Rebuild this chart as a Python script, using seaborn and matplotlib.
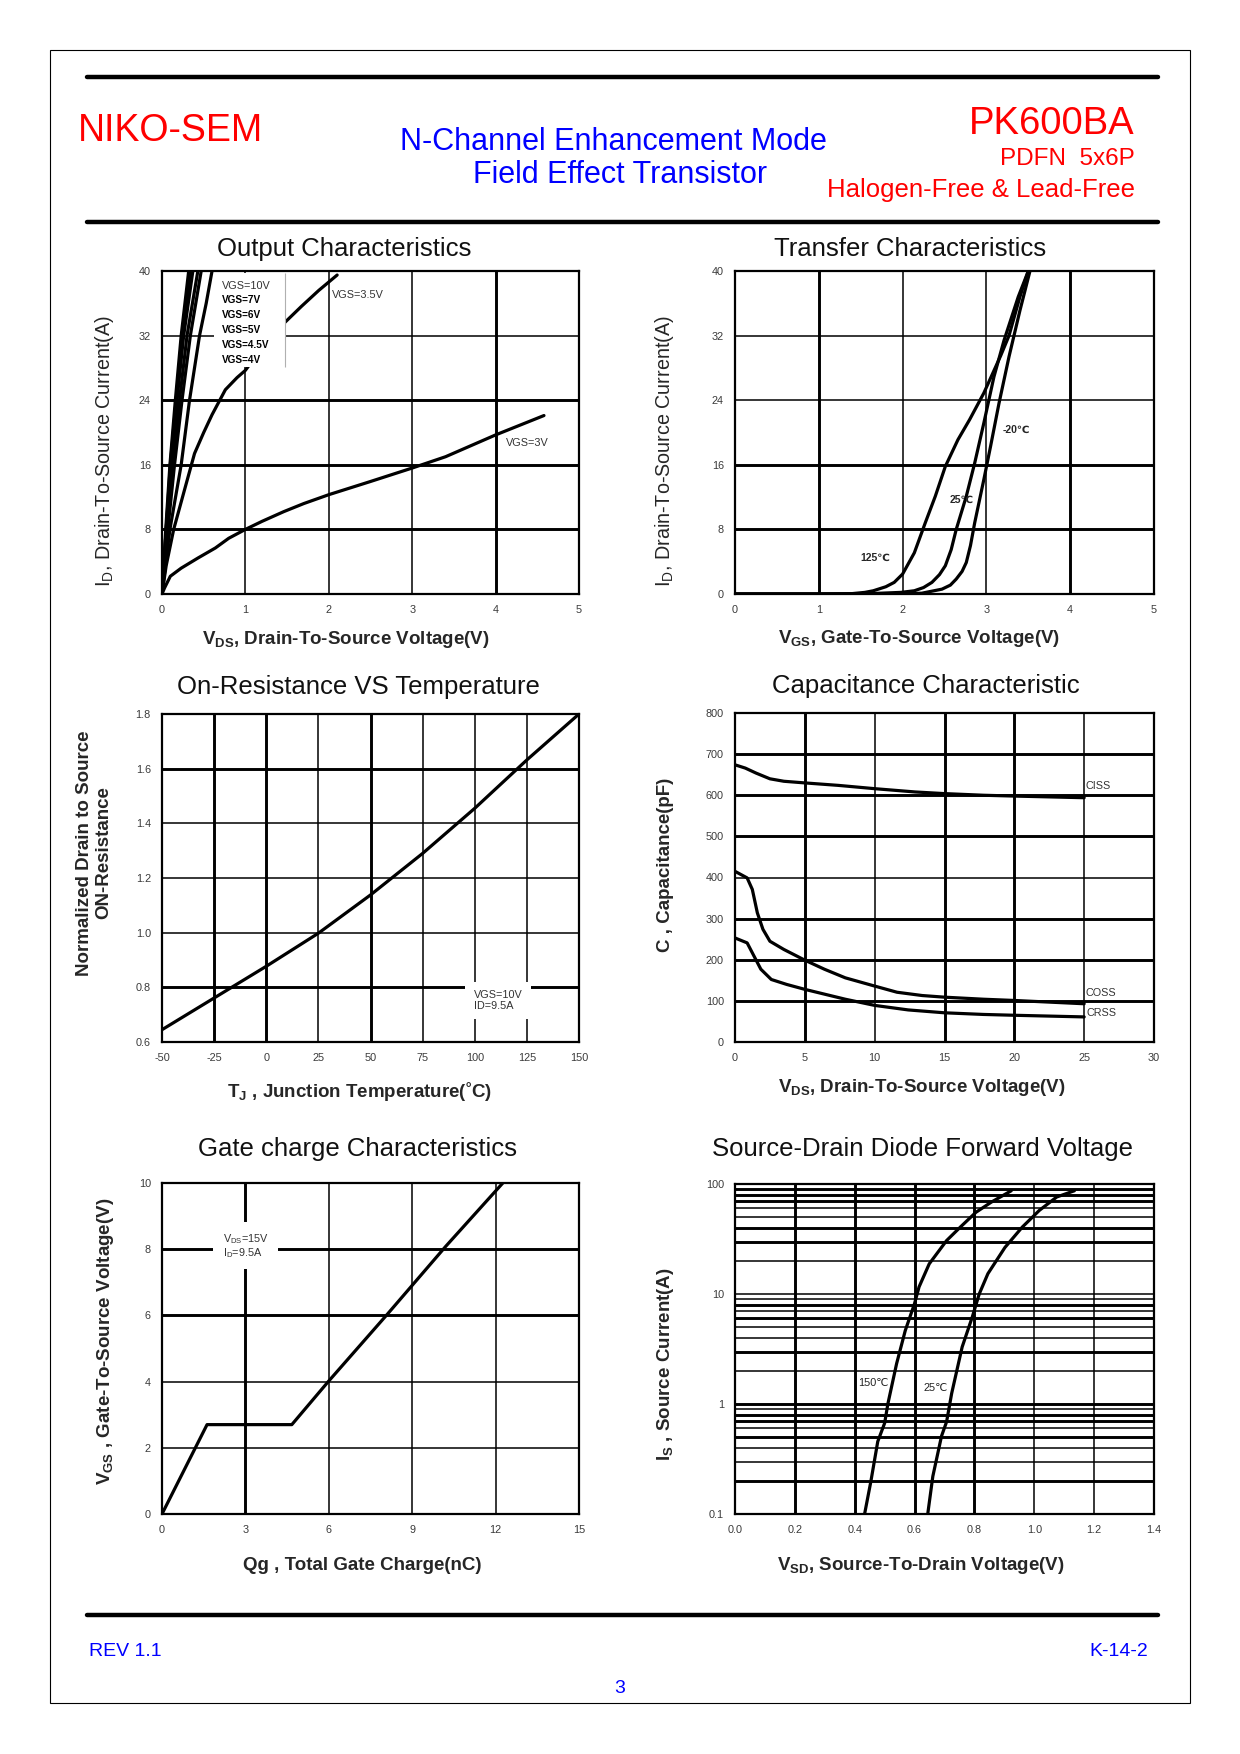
import numpy as np
import pandas as pd
import matplotlib
matplotlib.use("Agg")
import matplotlib.pyplot as plt
import seaborn as sns
from matplotlib.lines import Line2D
from matplotlib.patches import Rectangle

sns.set_theme(style="white")
plt.rcParams['font.family'] = ['Liberation Sans', 'DejaVu Sans']
plt.rcParams['mathtext.default'] = 'regular'

#----------------------------------
# data
#----------------------------------
# Output characteristics (VDS in V, ID in A)
out_vds_3v = [0, 0.03, 0.10, 0.23, 0.43, 0.64, 0.8, 1.0, 1.2, 1.46, 1.7, 2.0, 2.49, 3.0, 3.4, 4.0, 4.58]
out_id_3v = [0, 0.74, 2.2, 3.2, 4.45, 5.7, 6.9, 8.0, 9.0, 10.2, 11.2, 12.3, 13.9, 15.6, 17.0, 19.7, 22.1]
out_vds_35v = [0, 0.05, 0.14, 0.27, 0.39, 0.5, 0.6, 0.76, 0.9, 1.0, 1.2, 1.46, 1.67, 1.88, 2.1]
out_id_35v = [0, 3.5, 8.0, 12.9, 17.4, 20.0, 22.2, 25.3, 26.8, 27.7, 30.5, 33.5, 35.6, 37.6, 39.5]
out_vds_4v = [0, 0.095, 0.23, 0.33, 0.45, 0.53, 0.6]
out_id_4v = [0, 8, 16, 24, 32, 36, 40]
out_id_hi = [0, 8, 16, 24, 32, 40]
out_vds_45v = [0, 0.07, 0.15, 0.24, 0.34, 0.47]
out_vds_5v = [0, 0.06, 0.13, 0.21, 0.30, 0.43]
out_vds_6v = [0, 0.05, 0.11, 0.18, 0.26, 0.37]
out_vds_7v = [0, 0.05, 0.10, 0.17, 0.24, 0.34]
out_vds_10v = [0, 0.045, 0.095, 0.16, 0.23, 0.32]
out_legend = ["VGS=10V", "VGS=7V", "VGS=6V", "VGS=5V", "VGS=4.5V", "VGS=4V"]

# Transfer characteristics (VGS in V, ID in A)
tr_vgs_125 = [0, 1.0, 1.4, 1.55, 1.65, 1.8, 1.9, 2.0, 2.14, 2.27, 2.39, 2.51, 2.66, 2.8, 2.97, 3.17, 3.27, 3.4, 3.5]
tr_id_125 = [0, 0, 0.05, 0.2, 0.4, 0.9, 1.44, 2.47, 5.1, 8.8, 12.1, 15.8, 19.1, 21.6, 24.9, 29.5, 32.0, 36.8, 40]
tr_vgs_25 = [0, 1.5, 1.98, 2.14, 2.25, 2.35, 2.44, 2.51, 2.58, 2.64, 2.76, 2.86, 2.97, 3.09, 3.21, 3.38, 3.5]
tr_id_25 = [0, 0, 0.2, 0.4, 0.8, 1.44, 2.4, 3.5, 5.5, 8.0, 12.1, 16.2, 21.2, 26.9, 31.4, 36.8, 40]
tr_vgs_m20 = [0, 2.0, 2.23, 2.47, 2.57, 2.64, 2.71, 2.76, 2.81, 2.86, 2.97, 3.05, 3.15, 3.27, 3.4, 3.52]
tr_id_m20 = [0, 0, 0.1, 0.6, 1.1, 1.85, 2.8, 3.9, 6.0, 8.8, 14.2, 18.3, 23.6, 29.4, 35.1, 40]

# On-resistance vs temperature
tj = [-50, -25, 0, 25, 50, 75, 100, 125, 150]
rds_norm = [0.645, 0.761, 0.877, 0.998, 1.138, 1.29, 1.455, 1.632, 1.8]

# Capacitance (VDS in V, C in pF)
cap_v = [0, 0.74, 1.5, 2.5, 3.5, 5, 7.4, 10, 12.9, 15, 17.8, 20, 25]
ciss = [674, 666, 654, 640, 634, 630, 624, 616, 608, 604, 600, 598, 594]
coss_v = [0, 0.87, 1.24, 1.6, 2.0, 2.5, 3.5, 5, 6.4, 7.9, 10, 11.6, 13.4, 15, 17.8, 20, 25]
coss = [415, 399, 371, 314, 274, 245, 225, 199, 177, 156, 136, 121, 113, 109, 104, 101, 93]
crss_v = [0, 0.87, 1.36, 1.85, 2.6, 3.7, 5, 7.9, 10, 12.4, 15, 17.8, 20, 25]
crss = [253, 241, 209, 177, 152, 140, 128, 104, 89, 78, 71, 67, 65, 61]

# Gate charge
qg = [0, 1.62, 4.67, 5.98, 8.09, 10.2, 12.26]
vgs_qg = [0, 2.7, 2.7, 4.0, 6.02, 8.08, 10]

# Source-drain diode forward voltage
vsd_150 = [0.433, 0.454, 0.477, 0.5, 0.511, 0.54, 0.569, 0.6, 0.615, 0.649, 0.707, 0.753, 0.805, 0.856, 0.923]
is_150 = [0.1, 0.198, 0.456, 0.67, 1.01, 2.33, 4.66, 8.2, 11.6, 18.8, 30.6, 40.6, 55.3, 68.3, 86.8]
vsd_25 = [0.644, 0.661, 0.69, 0.707, 0.724, 0.759, 0.793, 0.816, 0.845, 0.902, 0.96, 1.017, 1.075, 1.134]
is_25 = [0.1, 0.22, 0.51, 0.69, 1.25, 3.3, 6.2, 10.0, 15.3, 26.5, 40.6, 57.6, 76.2, 86.8]

#----------------------------------
# page layout helpers
#----------------------------------
W, H = 1240, 1754
fig = plt.figure(figsize=(W / 100, H / 100), dpi=100)
fig.patch.set_facecolor("white")

def fx(px):
    return px / W

def fy(py):
    return 1 - py / H

def add_ax(l, t, r, b):
    return fig.add_axes([fx(l), fy(b), (r - l) / W, (b - t) / H])

THICK, THIN, CURVE = 2.1, 1.1, 2.3
TICK_C = "#3a3a3a"

def frame(ax, xlim, ylim, xt, yt, xlab, ylab, vthick=(), hthick=(), log=False):
    if log:
        ax.set_yscale("log")
    ax.set_xlim(xlim)
    ax.set_ylim(ylim)
    ax.set_xticks(xt)
    ax.set_xticklabels(xlab)
    ax.set_yticks(yt)
    ax.set_yticklabels(ylab)
    ax.minorticks_off()
    ax.tick_params(length=0, pad=8, labelsize=7.8, labelcolor=TICK_C)
    for s in ax.spines.values():
        s.set_color("black")
        s.set_linewidth(1.6)
    ax.set_xlabel("")
    ax.set_ylabel("")
    ax.grid(False)
    for v in xt[1:-1]:
        ax.axvline(v, color="black", lw=THICK if v in vthick else THIN, zorder=1)
    if not log:
        for v in yt[1:-1]:
            ax.axhline(v, color="black", lw=THICK if v in hthick else THIN, zorder=1)

def curve(ax, xs, ys):
    sns.lineplot(x=xs, y=ys, ax=ax, color="black", lw=CURVE, estimator=None,
                 sort=False, zorder=3)

LEFT, RIGHT = (162, 579), (735, 1154)
lab_fs = 13.5
title_fs = 18.5

#----------------------------------
# 1. Output characteristics
#----------------------------------
ax1 = add_ax(LEFT[0], 271, LEFT[1], 594)
frame(ax1, (0, 5), (0, 40), [0, 1, 2, 3, 4, 5], [0, 8, 16, 24, 32, 40],
      ["0", "1", "2", "3", "4", "5"], ["0", "8", "16", "24", "32", "40"],
      vthick=(4,), hthick=(8, 16, 24))
curve(ax1, out_vds_3v, out_id_3v)
curve(ax1, out_vds_35v, out_id_35v)
curve(ax1, out_vds_4v, out_id_4v)
for xs in [out_vds_45v, out_vds_5v, out_vds_6v, out_vds_7v, out_vds_10v]:
    curve(ax1, xs, out_id_hi)
ax1.add_patch(Rectangle((0.62, 28.1), 0.85, 11.6, facecolor="white",
                        edgecolor="none", zorder=4))
ax1.vlines(1.47, 28.1, 39.7, color="#b0b0b0", lw=0.8, zorder=5)
for i, lab in enumerate(out_legend):
    ax1.text(0.713, 38.2 - i * 1.85, lab, fontsize=7.8 if i == 0 else 7.2,
             fontweight="normal" if i == 0 else "bold",
             color="#333333" if i == 0 else "black", va="center", zorder=6)
ax1.text(2.04, 37.0, "VGS=3.5V", fontsize=7.8, color="#333333", va="center", zorder=6)
ax1.text(4.12, 18.7, "VGS=3V", fontsize=7.8, color="#333333", va="center", zorder=6)

#----------------------------------
# 2. Transfer characteristics
#----------------------------------
ax2 = add_ax(RIGHT[0], 271, RIGHT[1], 594)
frame(ax2, (0, 5), (0, 40), [0, 1, 2, 3, 4, 5], [0, 8, 16, 24, 32, 40],
      ["0", "1", "2", "3", "4", "5"], ["0", "8", "16", "24", "32", "40"],
      vthick=(1, 4), hthick=(8, 16))
curve(ax2, tr_vgs_125, tr_id_125)
curve(ax2, tr_vgs_25, tr_id_25)
curve(ax2, tr_vgs_m20, tr_id_m20)
ax2.text(1.67, 4.5, "125\u2103", fontsize=7.5, fontweight="bold", ha="center", va="center")
ax2.text(2.7, 11.6, "25\u2103", fontsize=7.5, fontweight="bold", ha="center", va="center")
ax2.text(3.36, 20.3, "-20\u2103", fontsize=7.5, fontweight="bold", ha="center", va="center")

#----------------------------------
# 3. On-resistance vs temperature
#----------------------------------
ax3 = add_ax(LEFT[0], 714, LEFT[1], 1042)
t_ticks = [-50, -25, 0, 25, 50, 75, 100, 125, 150]
r_ticks = [0.6, 0.8, 1.0, 1.2, 1.4, 1.6, 1.8]
frame(ax3, (-50, 150), (0.6, 1.8), t_ticks, r_ticks,
      [str(v) for v in t_ticks], ["%.1f" % v for v in r_ticks],
      vthick=(-25, 0, 50), hthick=(0.8, 1.6))
curve(ax3, tj, rds_norm)
ax3.text(99.5, 0.752, "VGS=10V\nID=9.5A", fontsize=7.8, color="#333333",
         va="center", ha="left", linespacing=1.1, zorder=6,
         bbox=dict(facecolor="white", edgecolor="none", pad=6))

#----------------------------------
# 4. Capacitance
#----------------------------------
ax4 = add_ax(RIGHT[0], 713, RIGHT[1], 1042)
v_ticks = [0, 5, 10, 15, 20, 25, 30]
c_ticks = [0, 100, 200, 300, 400, 500, 600, 700, 800]
frame(ax4, (0, 30), (0, 800), v_ticks, c_ticks,
      [str(v) for v in v_ticks], [str(v) for v in c_ticks],
      vthick=(5, 15, 20), hthick=(100, 200, 300, 500, 600, 700))
curve(ax4, cap_v, ciss)
curve(ax4, coss_v, coss)
curve(ax4, crss_v, crss)
ax4.text(25.1, 622, "CISS", fontsize=7.8, color="#333333", va="center")
ax4.text(25.1, 120, "COSS", fontsize=7.8, color="#333333", va="center")
ax4.text(25.2, 71, "CRSS", fontsize=7.8, color="#333333", va="center")

#----------------------------------
# 5. Gate charge
#----------------------------------
ax5 = add_ax(LEFT[0], 1183, LEFT[1], 1514)
q_ticks = [0, 3, 6, 9, 12, 15]
g_ticks = [0, 2, 4, 6, 8, 10]
frame(ax5, (0, 15), (0, 10), q_ticks, g_ticks,
      [str(v) for v in q_ticks], [str(v) for v in g_ticks],
      vthick=(3,), hthick=(6, 8))
curve(ax5, qg, vgs_qg)
ax5.text(2.18, 8.1, "V$_{DS}$=15V\nI$_{D}$=9.5A", fontsize=7.8, color="#333333",
         va="center", ha="left", linespacing=1.0, zorder=6,
         bbox=dict(facecolor="white", edgecolor="none", pad=7))

#----------------------------------
# 6. Source-drain diode
#----------------------------------
ax6 = add_ax(RIGHT[0], 1184, RIGHT[1], 1514)
vsd_ticks = [0.0, 0.2, 0.4, 0.6, 0.8, 1.0, 1.2, 1.4]
is_ticks = [0.1, 1, 10, 100]
frame(ax6, (0, 1.4), (0.1, 100), vsd_ticks, is_ticks,
      ["%.1f" % v for v in vsd_ticks], ["0.1", "1", "10", "100"],
      vthick=(0.2, 0.4, 0.6, 0.8), log=True)
thick_minor = {0.2, 0.5, 0.7, 0.8, 1, 3, 6, 8, 30, 40, 70, 80, 90}
for dec in [0.1, 1, 10]:
    for m in range(2, 11):
        v = round(dec * m, 3)
        if v >= 100:
            continue
        ax6.axhline(v, color="black", lw=THICK if v in thick_minor else THIN, zorder=1)
curve(ax6, vsd_150, is_150)
curve(ax6, vsd_25, is_25)
ax6.text(0.462, 1.54, "150\u2103", fontsize=7.8, color="#222222", ha="center", va="center")
ax6.text(0.672, 1.39, "25\u2103", fontsize=7.8, color="#222222", ha="center", va="center")

#----------------------------------
# titles and axis labels
#----------------------------------
titles = [("Output Characteristics", 344, 256), ("Transfer Characteristics", 910, 256),
          ("On-Resistance VS Temperature", 358, 694), ("Capacitance Characteristic", 926, 693),
          ("Gate charge Characteristics", 357, 1156), ("Source-Drain Diode Forward Voltage", 922, 1156)]
for t, x, y in titles:
    fig.text(fx(x), fy(y), t, fontsize=title_fs, ha="center", va="baseline", color="#111111")

xlabels = [("V$_{DS}$, Drain-To-Source Voltage(V)", 346, 644),
           ("V$_{GS}$, Gate-To-Source Voltage(V)", 919, 643),
           ("T$_{J}$ , Junction Temperature(\u02daC)", 360, 1097),
           ("V$_{DS}$, Drain-To-Source Voltage(V)", 922, 1092),
           ("Qg , Total Gate Charge(nC)", 362, 1570),
           ("V$_{SD}$, Source-To-Drain Voltage(V)", 921, 1570)]
for t, x, y in xlabels:
    fig.text(fx(x), fy(y), t, fontsize=lab_fs, fontweight="bold", ha="center", va="baseline")

ylabels = [("I$_{D}$, Drain-To-Source Current(A)", 105, 451, "normal", 14.2),
           ("I$_{D}$, Drain-To-Source Current(A)", 665, 451, "normal", 14.2),
           ("Normalized Drain to Source\nON-Resistance", 94, 853, "bold", lab_fs),
           ("C , Capacitance(pF)", 665, 865, "bold", lab_fs),
           ("V$_{GS}$ , Gate-To-Source Voltage(V)", 106, 1341, "bold", lab_fs),
           ("I$_{S}$ , Source Current(A)", 665, 1364, "bold", lab_fs)]
for t, x, y, w, s in ylabels:
    fig.text(fx(x), fy(y), t, fontsize=s, fontweight=w, rotation=90,
             ha="center", va="center", multialignment="center", linespacing=1.2)

#----------------------------------
# page header / footer
#----------------------------------
RED, BLUE = "#ff0000", "#0000ff"
fig.add_artist(Rectangle((fx(50), fy(1703)), (1190 - 50) / W, (1703 - 50) / H,
                         transform=fig.transFigure, fill=False, edgecolor="black", lw=0.8))
for yy in [76.5, 221.5, 1615]:
    fig.add_artist(Line2D([fx(87), fx(1158)], [fy(yy), fy(yy)], color="black", lw=3.2,
                          transform=fig.transFigure))
fig.text(fx(78), fy(141), "NIKO-SEM", fontsize=27, color=RED, va="baseline", ha="left")
fig.text(fx(613), fy(150), "N-Channel Enhancement Mode", fontsize=22, color=BLUE,
         va="baseline", ha="center")
fig.text(fx(620), fy(183), "Field Effect Transistor", fontsize=22, color=BLUE,
         va="baseline", ha="center")
fig.text(fx(1135), fy(134), "PK600BA", fontsize=27.5, color=RED, va="baseline", ha="right")
fig.text(fx(1135), fy(165), "PDFN  5x6P", fontsize=17.5, color=RED, va="baseline", ha="right")
fig.text(fx(1135), fy(197), "Halogen-Free & Lead-Free", fontsize=18.5, color=RED,
         va="baseline", ha="right")
fig.text(fx(89), fy(1656), "REV 1.1", fontsize=14, color=BLUE, va="baseline", ha="left")
fig.text(fx(1148), fy(1656), "K-14-2", fontsize=14, color=BLUE, va="baseline", ha="right")
fig.text(fx(620), fy(1693), "3", fontsize=14, color=BLUE, va="baseline", ha="center")

fig.savefig("out.png", dpi=100, facecolor="white")
